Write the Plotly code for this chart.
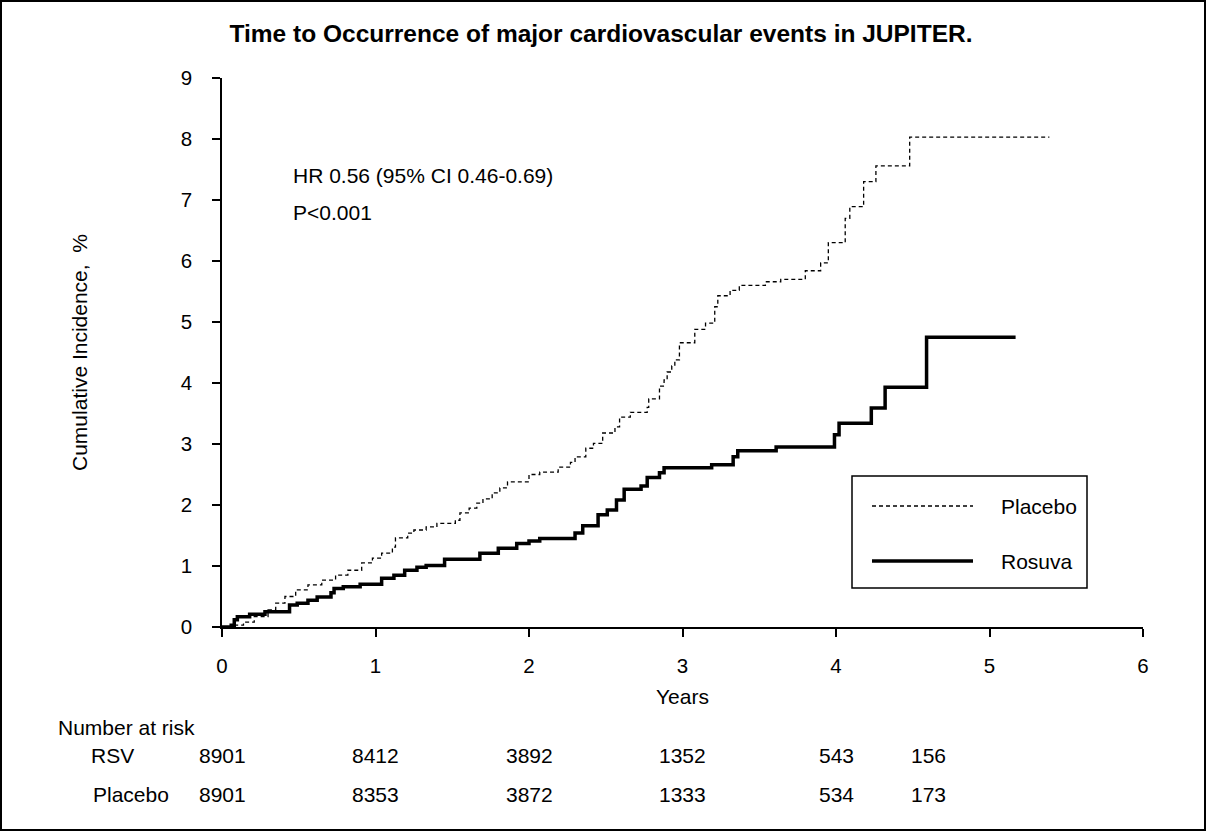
import plotly.graph_objects as go

# ---- data ----
rosuva_t = [0, 0.06, 0.08, 0.10, 0.18, 0.28, 0.44, 0.49, 0.56, 0.62, 0.71, 0.73, 0.79, 0.90,
            1.04, 1.12, 1.19, 1.27, 1.33, 1.45, 1.68, 1.80, 1.92, 2.00, 2.07, 2.30, 2.35,
            2.45, 2.51, 2.57, 2.62, 2.73, 2.77, 2.85, 2.88, 3.19, 3.33, 3.36, 3.61, 3.99,
            4.02, 4.23, 4.32, 4.59, 5.17]
rosuva_v = [0, 0.03, 0.12, 0.17, 0.21, 0.25, 0.36, 0.39, 0.44, 0.49, 0.56, 0.63, 0.66, 0.70,
            0.80, 0.85, 0.93, 0.98, 1.01, 1.11, 1.21, 1.29, 1.37, 1.41, 1.45, 1.54, 1.66,
            1.84, 1.92, 2.08, 2.26, 2.31, 2.45, 2.53, 2.61, 2.66, 2.79, 2.89, 2.95, 3.15,
            3.34, 3.59, 3.93, 4.75, 4.75]

placebo_t = [0, 0.07, 0.14, 0.21, 0.30, 0.35, 0.41, 0.48, 0.56, 0.65, 0.74, 0.82, 0.91, 0.98,
             1.04, 1.11, 1.13, 1.21, 1.25, 1.33, 1.40, 1.52, 1.55, 1.61, 1.66, 1.70, 1.76,
             1.81, 1.86, 2.00, 2.07, 2.19, 2.27, 2.30, 2.37, 2.42, 2.48, 2.56, 2.59, 2.66,
             2.77, 2.78, 2.85, 2.88, 2.90, 2.93, 2.95, 2.98, 3.08, 3.15, 3.21, 3.23, 3.31,
             3.37, 3.54, 3.64, 3.80, 3.90, 3.95, 4.06, 4.09, 4.18, 4.26, 4.48, 5.39]
placebo_v = [0, 0.03, 0.08, 0.17, 0.28, 0.39, 0.50, 0.61, 0.69, 0.77, 0.85, 0.93, 1.05, 1.13,
             1.21, 1.31, 1.46, 1.54, 1.59, 1.64, 1.70, 1.75, 1.87, 1.95, 2.03, 2.10, 2.20,
             2.28, 2.38, 2.50, 2.54, 2.62, 2.70, 2.79, 2.93, 3.01, 3.18, 3.28, 3.44, 3.52,
             3.60, 3.74, 3.95, 4.05, 4.18, 4.28, 4.38, 4.66, 4.88, 4.98, 5.25, 5.43, 5.52,
             5.60, 5.66, 5.70, 5.84, 5.97, 6.30, 6.70, 6.89, 7.30, 7.56, 8.03, 8.03]

x_ticks = [0, 1, 2, 3, 4, 5, 6]
y_ticks = [0, 1, 2, 3, 4, 5, 6, 7, 8, 9]

risk_times = [0, 1, 2, 3, 4, 4.6]
rsv_risk = [8901, 8412, 3892, 1352, 543, 156]
placebo_risk = [8901, 8353, 3872, 1333, 534, 173]

title_text = "Time to Occurrence of major cardiovascular events in JUPITER."
hr_text = "HR 0.56 (95% CI 0.46-0.69)"
p_text = "P<0.001"

FONT = "Liberation Sans, Arial, Helvetica, sans-serif"
FS = 21
W, H = 1206, 831
ML, MR, MT, MB = 222, 63, 78, 204
PW, PH = W - ML - MR, H - MT - MB


def px(xp):
    return (xp - ML) / PW


def py(yp):
    return (H - MB - yp) / PH


fig = go.Figure()
fig.add_trace(go.Scatter(x=placebo_t, y=placebo_v, mode="lines", line_shape="hv",
                         line=dict(color="black", width=1.3, dash="4px,3px"),
                         name="Placebo", showlegend=False, hoverinfo="skip"))
fig.add_trace(go.Scatter(x=rosuva_t, y=rosuva_v, mode="lines", line_shape="hv",
                         line=dict(color="black", width=3.5),
                         name="Rosuva", showlegend=False, hoverinfo="skip"))

shapes = [
    # outer frame
    dict(type="rect", xref="paper", yref="paper",
         x0=px(1), x1=px(W - 1), y0=py(H - 1), y1=py(1),
         line=dict(color="black", width=2)),
    # legend box
    dict(type="rect", xref="paper", yref="paper",
         x0=px(852), x1=px(1087), y0=py(588), y1=py(476),
         line=dict(color="black", width=1.5), fillcolor="white"),
    dict(type="line", xref="paper", yref="paper",
         x0=px(872), x1=px(973), y0=py(506), y1=py(506),
         line=dict(color="black", width=1.3, dash="4px,3px")),
    dict(type="line", xref="paper", yref="paper",
         x0=px(872), x1=px(973), y0=py(561), y1=py(561),
         line=dict(color="black", width=3.5)),
]

ann = [
    dict(text=hr_text, x=px(291), y=py(175), xref="paper", yref="paper",
         xanchor="left", yanchor="middle", showarrow=False, font=dict(size=FS)),
    dict(text=p_text, x=px(291), y=py(212), xref="paper", yref="paper",
         xanchor="left", yanchor="middle", showarrow=False, font=dict(size=FS)),
    dict(text="Placebo", x=px(999), y=py(506), xref="paper", yref="paper",
         xanchor="left", yanchor="middle", showarrow=False, font=dict(size=FS)),
    dict(text="Rosuva", x=px(999), y=py(561), xref="paper", yref="paper",
         xanchor="left", yanchor="middle", showarrow=False, font=dict(size=FS)),
    dict(text="Number at risk", x=px(56), y=py(727), xref="paper", yref="paper",
         xanchor="left", yanchor="middle", showarrow=False, font=dict(size=FS)),
    dict(text="RSV", x=px(89), y=py(755), xref="paper", yref="paper",
         xanchor="left", yanchor="middle", showarrow=False, font=dict(size=FS)),
    dict(text="Placebo", x=px(91), y=py(795), xref="paper", yref="paper",
         xanchor="left", yanchor="middle", showarrow=False, font=dict(size=FS)),
]
for t, r, p in zip(risk_times, rsv_risk, placebo_risk):
    ann.append(dict(text=str(r), x=t, y=py(755), xref="x", yref="paper",
                    xanchor="center", yanchor="middle", showarrow=False, font=dict(size=FS)))
    ann.append(dict(text=str(p), x=t, y=py(795), xref="x", yref="paper",
                    xanchor="center", yanchor="middle", showarrow=False, font=dict(size=FS)))

fig.update_layout(
    width=W, height=H,
    margin=dict(l=ML, r=MR, t=MT, b=MB, pad=0),
    paper_bgcolor="white", plot_bgcolor="white",
    font=dict(family=FONT, color="black", size=FS),
    title=dict(text="<b>" + title_text + "</b>", x=601 / W, y=1 - 33 / H,
               xref="container", yref="container", xanchor="center", yanchor="middle",
               font=dict(size=24.5, family=FONT, color="black")),
    shapes=shapes, annotations=ann,
    showlegend=False,
)
fig.update_xaxes(range=[0, 6], tickvals=x_ticks, ticktext=[str(v) for v in x_ticks],
                 showgrid=False, zeroline=False, showline=True, linecolor="black", linewidth=1.5,
                 ticks="outside", ticklen=8, tickwidth=1.5, tickcolor="black",
                 ticklabelstandoff=12, tickfont=dict(size=20.5),
                 title=dict(text="Years", standoff=13, font=dict(size=FS)))
fig.update_yaxes(range=[0, 9], tickvals=y_ticks, ticktext=[str(v) for v in y_ticks],
                 showgrid=False, zeroline=False, showline=True, linecolor="black", linewidth=1.5,
                 ticks="outside", ticklen=8, tickwidth=1.5, tickcolor="black",
                 ticklabelstandoff=16, tickfont=dict(size=20.5),
                 title=dict(text="Cumulative Incidence,  %", standoff=87, font=dict(size=FS)))

fig.write_html("out.html", config={"displayModeBar": False},
               post_script="document.body.style.margin='0';")
